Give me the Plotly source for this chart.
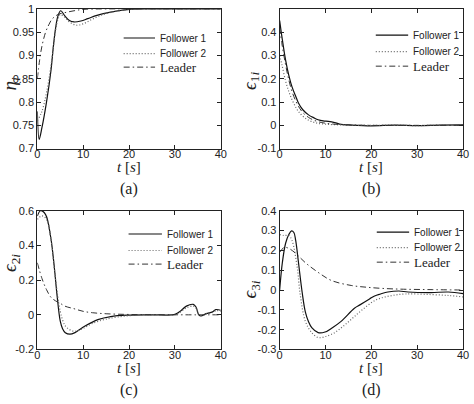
import plotly.graph_objects as go

# Data

# (a) eta_i
t_a_f1 = [0, 0.4, 1, 2, 3, 3.5, 4, 4.5, 5.1, 6, 7, 8, 9.5, 11, 13, 16, 20, 25, 40]
eta_f1 = [0.78, 0.72, 0.745, 0.80, 0.87, 0.92, 0.96, 0.985, 0.996, 0.985, 0.975, 0.972,
          0.974, 0.979, 0.986, 0.993, 0.999, 1.0, 1.0]
t_a_f2 = [0, 1, 2, 3, 4, 4.5, 5, 6, 7, 8.5, 10, 12, 15, 20, 25, 40]
eta_f2 = [0.76, 0.78, 0.82, 0.88, 0.955, 0.978, 0.988, 0.982, 0.972, 0.965, 0.968, 0.978,
          0.99, 0.999, 1.0, 1.0]
t_a_l = [0, 0.5, 1, 1.8, 2.5, 3.2, 4.5, 6, 8, 10, 15, 40]
eta_l = [0.85, 0.89, 0.92, 0.95, 0.966, 0.978, 0.988, 0.992, 0.996, 0.999, 1.0, 1.0]

# (b) eps_1i
t_b_f1 = [0, 0.5, 1.3, 2, 2.7, 3.5, 4.1, 5, 6.3, 7.5, 8.4, 9.5, 10.6, 12, 13.4, 15, 20, 25, 30, 35, 40]
e1_f1 = [0.45, 0.38, 0.28, 0.215, 0.165, 0.125, 0.096, 0.068, 0.045, 0.032, 0.024, 0.019,
         0.017, 0.012, 0.004, 0.002, -0.002, 0.001, -0.001, 0.001, 0.002]
t_b_f2 = [0, 0.5, 1.3, 2, 2.7, 3.5, 4.1, 5, 6.3, 7.5, 8.5, 10, 12, 15, 20, 25, 30, 35, 40]
e1_f2 = [0.3, 0.26, 0.19, 0.145, 0.11, 0.078, 0.06, 0.04, 0.022, 0.013, 0.008, 0.005,
         0.003, 0.001, 0, 0.001, -0.001, 0.001, 0.001]
t_b_l = [0, 0.5, 1.3, 2, 2.7, 3.5, 4.1, 5, 6.3, 7.5, 8.5, 10, 12, 15, 20, 30, 40]
e1_l = [0.42, 0.35, 0.26, 0.195, 0.145, 0.105, 0.082, 0.056, 0.034, 0.022, 0.015, 0.009,
        0.005, 0.002, 0, 0, 0]

# (c) eps_2i
t_c_f1 = [0, 0.7, 1.8, 2.9, 3.6, 4.3, 5, 5.5, 6.1, 7.1, 8.2, 10.4, 13.2, 16, 20, 25, 30,
          31, 32.5, 34, 34.6, 35.2, 35.7, 36.8, 38.2, 38.9, 40]
e2_f1 = [0.57, 0.6, 0.578, 0.45, 0.3, 0.112, -0.037, -0.08, -0.103, -0.112, -0.103, -0.065,
         -0.028, -0.01, -0.002, 0, 0.002, 0.017, 0.05, 0.06, 0.045, 0, -0.007, 0.007, 0.017,
         0.03, 0.026]
t_c_f2 = [0, 1, 2, 3, 4, 5, 6, 7, 8, 9, 10, 12, 15, 20, 25, 30, 31, 32.5, 34, 34.6, 35.2,
          35.7, 36.8, 38.2, 39, 40]
e2_f2 = [0.55, 0.57, 0.55, 0.43, 0.2, 0.02, -0.06, -0.085, -0.095, -0.09, -0.078, -0.05,
         -0.025, -0.005, 0, 0.001, 0.012, 0.04, 0.05, 0.038, 0.002, -0.005, 0.005, 0.013,
         0.024, 0.02]
t_c_l = [0, 1, 2, 3, 4, 5, 6, 8, 10, 12, 15, 20, 30, 40]
e2_l = [0.3, 0.21, 0.145, 0.1, 0.08, 0.066, 0.05, 0.035, 0.02, 0.012, 0.006, 0.002, 0, 0]

# (d) eps_3i
t_d_f1 = [0, 0.6, 1.3, 2, 2.6, 3.1, 3.5, 4.1, 4.9, 5.6, 6.3, 7, 8.4, 9.9, 11.5, 13.4, 16.3,
          17.5, 19.6, 20.7, 22, 23.6, 26, 28, 33, 36.8, 40]
e3_f1 = [0.0, 0.14, 0.236, 0.28, 0.298, 0.29, 0.25, 0.14, -0.01, -0.11, -0.16, -0.19,
         -0.215, -0.212, -0.19, -0.158, -0.092, -0.075, -0.045, -0.03, -0.02, -0.01, -0.005,
         -0.01, -0.013, -0.01, -0.018]
t_d_f2 = [0, 0.9, 2, 2.7, 3.8, 4.5, 5.6, 7, 8.4, 9.9, 12, 14, 16, 18, 21, 24, 27.5, 33, 37, 40]
e3_f2 = [0.28, 0.275, 0.275, 0.25, 0.12, -0.026, -0.157, -0.215, -0.24, -0.235, -0.215,
         -0.18, -0.14, -0.1, -0.05, -0.03, -0.02, -0.023, -0.028, -0.035]
t_d_l = [0, 1, 2, 3.4, 5.6, 8.4, 11.3, 15.6, 19, 22.5, 27, 33, 40]
e3_l = [0.19, 0.215, 0.21, 0.187, 0.138, 0.089, 0.048, 0.023, 0.014, 0.008, 0.004, 0.002, 0.0]

x_ticks = [0, 10, 20, 30, 40]
y_ticks_a = [0.7, 0.75, 0.8, 0.85, 0.9, 0.95, 1]
y_ticks_b = [-0.1, 0, 0.1, 0.2, 0.3, 0.4]
y_ticks_c = [-0.2, 0, 0.2, 0.4, 0.6]
y_ticks_d = [-0.3, -0.2, -0.1, 0, 0.1, 0.2, 0.3, 0.4]
series_names = ["Follower 1", "Follower 2", "Leader"]

W, H = 474, 404
SANS = "Liberation Sans, Arial, sans-serif"
SERIF = "Liberation Serif, Times New Roman, serif"

# panel boxes in pixels (left, right, top, bottom)
boxes = {
    "a": (35, 222, 3, 147),
    "b": (282, 469, 3, 147),
    "c": (35, 222, 211, 354),
    "d": (282, 469, 211, 354),
}
# legend: line start x offset, line end x offset, row y offsets (from panel top-left)
legend_pos = {
    "a": (88, 120, [30, 46, 60]),
    "b": (98, 131, [27, 44, 59]),
    "c": (93, 127, [24, 41, 55]),
    "d": (99, 132, [22, 38, 53]),
}
# y title centre in pixels
ytitle_pos = {"a": (8, 80), "b": (252, 77), "c": (8, 265), "d": (253, 292)}

line_styles = [
    dict(color="#111", width=1.2),
    dict(color="#666", width=1.2, dash="1px,2px"),
    dict(color="#333", width=1.0, dash="6px,3px,1.5px,3px"),
]

panels = [
    ("a", "", [0.7, 1.0], y_ticks_a,
     [(t_a_f1, eta_f1), (t_a_f2, eta_f2), (t_a_l, eta_l)], "<i>η<sub>i</sub></i>"),
    ("b", "2", [-0.1, 0.5], y_ticks_b,
     [(t_b_f1, e1_f1), (t_b_f2, e1_f2), (t_b_l, e1_l)], "<i>ϵ</i><sub>1<i>i</i></sub>"),
    ("c", "3", [-0.2, 0.6], y_ticks_c,
     [(t_c_f1, e2_f1), (t_c_f2, e2_f2), (t_c_l, e2_l)], "<i>ϵ</i><sub>2<i>i</i></sub>"),
    ("d", "4", [-0.3, 0.4], y_ticks_d,
     [(t_d_f1, e3_f1), (t_d_f2, e3_f2), (t_d_l, e3_l)], "<i>ϵ</i><sub>3<i>i</i></sub>"),
]

fig = go.Figure()
layout = dict(
    width=W, height=H,
    margin=dict(l=0, r=0, t=0, b=0),
    paper_bgcolor="white", plot_bgcolor="white",
    font=dict(family=SANS, size=11, color="#222"),
    showlegend=False,
    annotations=[], shapes=[],
)

for key, ax, yr, yt, series, ytitle in panels:
    left, right, top, bottom = boxes[key]
    xa = "x" + ax
    ya = "y" + ax
    for (tx, ty), name, style in zip(series, series_names, line_styles):
        fig.add_trace(go.Scatter(x=tx, y=ty, mode="lines", name=name,
                                 line=dict(shape="spline", **style),
                                 xaxis=xa, yaxis=ya))

    common = dict(showline=True, linecolor="#222", linewidth=1, mirror="ticks",
                  ticks="inside", ticklen=4, tickcolor="#222", showgrid=False,
                  zeroline=False, tickfont=dict(family=SANS, size=11, color="#222"))
    layout["xaxis" + ax] = dict(
        domain=[left / W, right / W], range=[0, 40], anchor=ya,
        tickvals=x_ticks, ticktext=[str(v) for v in x_ticks],
        ticklabelstandoff=-5, **common)
    layout["yaxis" + ax] = dict(
        domain=[1 - bottom / H, 1 - top / H], range=yr, anchor=xa,
        tickvals=yt, ticktext=["%g" % v for v in yt], **common)

    # x title, panel label, y title
    cx = (left + right) / 2
    layout["annotations"].append(dict(
        x=cx / W, y=1 - (bottom + 19) / H, xref="paper", yref="paper",
        text="<i>t</i> [<i>s</i>]", showarrow=False, xanchor="center", yanchor="middle",
        font=dict(family=SERIF, size=15, color="#222")))
    layout["annotations"].append(dict(
        x=cx / W, y=1 - (bottom + 42) / H, xref="paper", yref="paper",
        text="(%s)" % key, showarrow=False, xanchor="center", yanchor="middle",
        font=dict(family=SERIF, size=16, color="#222")))
    tx_, ty_ = ytitle_pos[key]
    layout["annotations"].append(dict(
        x=tx_ / W, y=1 - ty_ / H, xref="paper", yref="paper",
        text=ytitle, showarrow=False, textangle=-90, xanchor="center", yanchor="middle",
        font=dict(family=SERIF, size=19, color="#222")))

    # legend drawn inside the panel
    lx0, lx1, rows = legend_pos[key]
    for name, style, ry in zip(series_names, line_styles, rows):
        yy = 1 - (top + ry) / H
        layout["shapes"].append(dict(
            type="line", xref="paper", yref="paper",
            x0=(left + lx0) / W, x1=(left + lx1) / W, y0=yy, y1=yy,
            line=style))
        if name == "Leader":
            lfont = dict(family=SERIF, size=13, color="#222")
        else:
            lfont = dict(family=SANS, size=10, color="#222")
        layout["annotations"].append(dict(
            x=(left + lx1 + 3) / W, y=yy, xref="paper", yref="paper",
            text=name, showarrow=False, xanchor="left", yanchor="middle", font=lfont))

fig.update_layout(**layout)
fig.write_html("out.html",
               config={"displayModeBar": False},
               post_script="document.body.style.margin='0px';"
                           "document.body.style.overflow='hidden';")
